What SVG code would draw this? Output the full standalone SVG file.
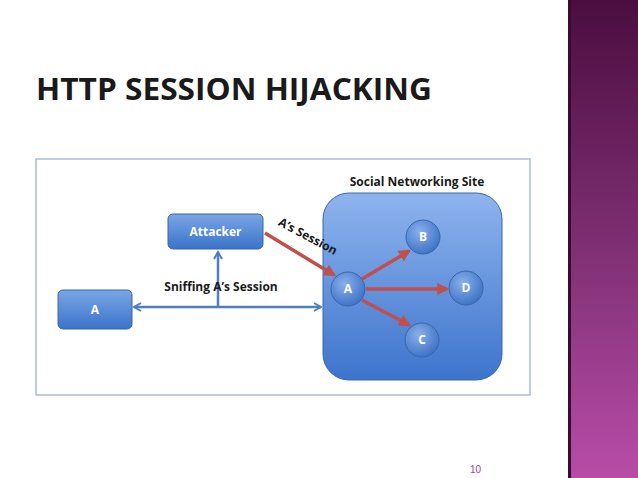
<svg xmlns="http://www.w3.org/2000/svg" width="638" height="478" viewBox="0 0 638 478">
<defs>
<linearGradient id="band" x1="0" y1="0" x2="0" y2="1"><stop offset="0" stop-color="#4b0d40"/><stop offset="0.5" stop-color="#7d2e72"/><stop offset="1" stop-color="#b84ca8"/></linearGradient>
<linearGradient id="box" x1="0" y1="0" x2="0" y2="1"><stop offset="0" stop-color="#7aa6e6"/><stop offset="1" stop-color="#3b73c9"/></linearGradient>
<linearGradient id="site" x1="0" y1="0" x2="0" y2="1"><stop offset="0" stop-color="#8eb4ee"/><stop offset="1" stop-color="#3d74cc"/></linearGradient>
<radialGradient id="circ" cx="0.4" cy="0.35" r="0.7"><stop offset="0" stop-color="#8ab0ea"/><stop offset="1" stop-color="#3a70c6"/></radialGradient>
<marker id="ab" viewBox="0 0 10 10" refX="8" refY="5" markerWidth="4" markerHeight="4" orient="auto-start-reverse"><path d="M1,1 L8,5 L1,9" fill="none" stroke="#4f7fbf" stroke-width="2"/></marker>
<marker id="ar" viewBox="0 0 10 10" refX="8" refY="5" markerWidth="3.5" markerHeight="3.5" orient="auto"><path d="M0,0 L10,5 L0,10 z" fill="#c0504d"/></marker>
</defs>
<style>
.t{font-family:"Open Sans","Liberation Sans",sans-serif;font-weight:bold}
.w{fill:#fff;font-size:12px;text-anchor:middle}
.k{fill:#1a1a1a;font-size:12px}
.nb{stroke:#3a66a8;stroke-width:1}
.red{stroke:#c0504d;stroke-width:3.5;fill:none}
.blue{stroke:#4f7fbf;stroke-width:2.5;fill:none}
</style>
<rect width="638" height="478" fill="#fff"/>
<rect x="568" y="0" width="70" height="478" fill="url(#band)"/>
<rect x="568" y="0" width="3" height="478" fill="#3a0a30"/>
<text x="36" y="100" class="t" font-size="30" fill="#1a1a1a" textLength="396" lengthAdjust="spacingAndGlyphs">HTTP SESSION HIJACKING</text>
<text x="470" y="473" font-family="Liberation Sans,sans-serif" font-size="10" fill="#b5409f">10</text>
<rect x="36" y="159" width="494" height="236" fill="#fff" stroke="#a9bfd8" stroke-width="1.5"/>
<g id="site-group"><rect x="323" y="193" width="179" height="187" rx="26" fill="url(#site)" class="nb"/><text x="417" y="186" class="t k" text-anchor="middle">Social Networking Site</text></g>
<g id="attacker"><rect x="168" y="214" width="95" height="35" rx="5" fill="url(#box)" class="nb"/><text x="215.5" y="236" class="t w">Attacker</text></g>
<g id="userA"><rect x="58" y="290" width="74" height="39" rx="5" fill="url(#box)" class="nb"/><text x="95" y="314" class="t w">A</text></g>
<g id="nA"><circle cx="348" cy="289" r="17" fill="url(#circ)" class="nb"/><text x="348" y="293" class="t w">A</text></g>
<g id="nB"><circle cx="423" cy="237" r="17" fill="url(#circ)" class="nb"/><text x="423" y="241" class="t w">B</text></g>
<g id="nD"><circle cx="466" cy="288" r="17" fill="url(#circ)" class="nb"/><text x="466" y="292" class="t w">D</text></g>
<g id="nC"><circle cx="422" cy="340" r="17" fill="url(#circ)" class="nb"/><text x="422" y="344" class="t w">C</text></g>
<g id="connectors">
<line x1="134" y1="307" x2="321" y2="307" class="blue" marker-start="url(#ab)" marker-end="url(#ab)"/>
<line x1="218" y1="307" x2="218" y2="252" class="blue" marker-end="url(#ab)"/>
<line x1="265" y1="233" x2="334" y2="275" class="red" marker-end="url(#ar)"/>
<line x1="362" y1="279" x2="409" y2="251" class="red" marker-end="url(#ar)"/>
<line x1="366" y1="289" x2="447" y2="289" class="red" marker-end="url(#ar)"/>
<line x1="362" y1="300" x2="409" y2="325" class="red" marker-end="url(#ar)"/>
<text x="221" y="291" class="t k" text-anchor="middle">Sniffing A’s Session</text>
<text x="306" y="240" class="t k" text-anchor="middle" transform="rotate(28 306 240)">A’s Session</text>
</g>
</svg>
